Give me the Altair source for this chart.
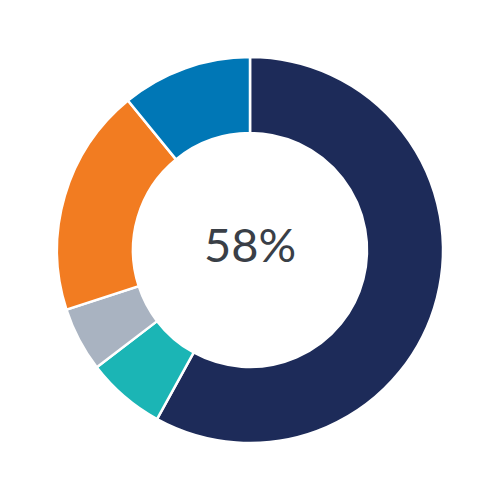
import altair as alt
import pandas as pd

categories = ["A", "B", "C", "D", "E"]
values = [58, 6.6, 5.4, 19.1, 10.9]
colors = ["#1d2b59", "#1bb5b5", "#a9b3c1", "#f27c21", "#0077b6"]
center_label = ["58%"]

df = pd.DataFrame({"cat": categories, "value": values, "order": list(range(len(values)))})

arcs = alt.Chart(df).mark_arc(outerRadius=193, innerRadius=117, stroke="white", strokeWidth=2.5).encode(
    theta=alt.Theta("value:Q", stack=True),
    color=alt.Color("cat:N", scale=alt.Scale(domain=categories, range=colors), legend=None),
    order=alt.Order("order:Q"),
)

text = alt.Chart(pd.DataFrame({"t": center_label})).mark_text(
    font="Lato", fontSize=47, color="#3a3f47", baseline="middle", align="center", dy=-2
).encode(text="t:N", x=alt.value(242), y=alt.value(242))

chart = alt.layer(arcs, text).properties(
    width=484, height=484, padding=0, autosize=alt.AutoSizeParams(type="none")
).configure_view(stroke=None)

chart.save("out.html", embed_options={"renderer": "svg", "actions": False})
